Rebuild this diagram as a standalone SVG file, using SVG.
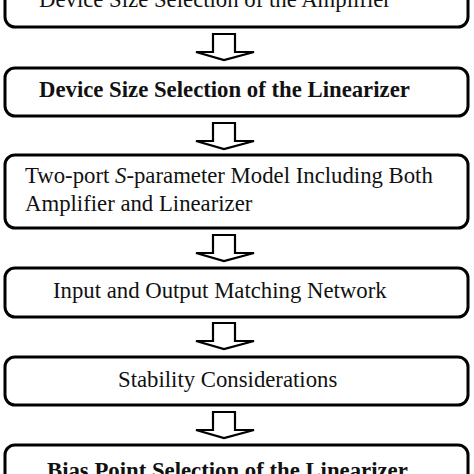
<svg xmlns="http://www.w3.org/2000/svg" width="474" height="474" viewBox="0 0 474 474">
<style>
.box{fill:#fff;stroke:#000;stroke-width:3}
.arr{fill:#fff;stroke:#000;stroke-width:2.2;stroke-linejoin:miter}
.t{font-family:"Liberation Serif","Times New Roman",serif;font-size:22.75px;fill:#111}
.b{font-weight:bold}
</style>
<rect width="474" height="474" fill="#fff"/>
<defs>
<path id="ar" d="M213,0 H235 V18 H254 L224,26 L196,18 H213 Z"/>
</defs>
<g id="connectors">
<use href="#ar" class="arr" y="34"/>
<use href="#ar" class="arr" y="123"/>
<use href="#ar" class="arr" y="235"/>
<use href="#ar" class="arr" y="323"/>
<use href="#ar" class="arr" y="412"/>
</g>
<g id="n1"><rect class="box" x="5" y="-30" width="463" height="57" rx="10"/>
<text class="t" x="39" y="7">Device Size Selection of the Amplifier</text></g>
<g id="n2"><rect class="box" x="5" y="68" width="463" height="48" rx="10"/>
<text class="t b" x="39" y="97">Device Size Selection of the Linearizer</text></g>
<g id="n3"><rect class="box" x="5" y="155" width="463" height="73" rx="10"/>
<text class="t" x="25" y="183">Two-port <tspan font-style="italic">S</tspan>-parameter Model Including Both</text>
<text class="t" x="25" y="211">Amplifier and Linearizer</text></g>
<g id="n4"><rect class="box" x="5" y="268" width="463" height="49" rx="10"/>
<text class="t" x="53" y="298">Input and Output Matching Network</text></g>
<g id="n5"><rect class="box" x="5" y="357" width="463" height="48" rx="10"/>
<text class="t" x="118" y="387">Stability Considerations</text></g>
<g id="n6"><rect class="box" x="5" y="445" width="463" height="60" rx="10"/>
<text class="t b" x="47" y="478">Bias Point Selection of the Linearizer</text></g>
</svg>
